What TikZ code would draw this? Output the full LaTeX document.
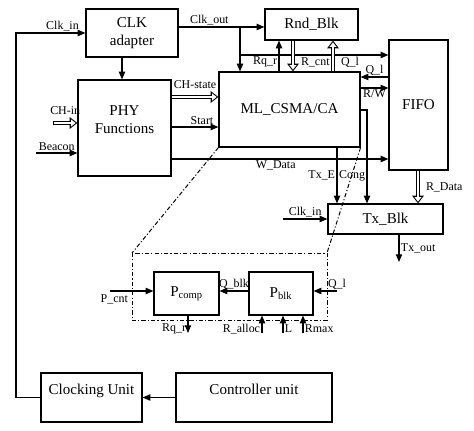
\documentclass[tikz,border=0pt]{standalone}
\usepackage{fontspec}
\setmainfont{Liberation Serif}
\usetikzlibrary{arrows.meta}

\begin{document}
\begin{tikzpicture}[x=0.025cm, y=-0.025cm,
      blk/.style={draw, line width=0.8pt, align=center, inner sep=1pt,
                  font=\fontsize{10.7}{12.5}\selectfont},
      lbl/.style={font=\fontsize{8.5}{10}\selectfont, inner sep=1pt},
      sig/.style={line width=0.8pt, -{Triangle[length=5.5pt,width=4.5pt]}},
      bus/.style={line width=3.4pt, -{Triangle[length=5.5pt,width=8pt]},
                  postaction={draw=white, line width=1.8pt, shorten >=1.3pt,
                              shorten <=0.6pt, -{Triangle[length=3.2pt,width=4.8pt]}}},
      zoom/.style={line width=0.7pt, dash pattern=on 3pt off 1.5pt on 0.8pt off 1.5pt}]
    \useasboundingbox (0,0) rectangle (474,431);

    % blocks
    \node[blk, minimum width=2.3cm, minimum height=1.2cm]     (clk)   at (132,33)      {CLK\\adapter};
    \node[blk, minimum width=2.325cm, minimum height=2.4cm, text depth=12pt] (phy) at (124.5,128) {PHY\\Functions};
    \node[blk, minimum width=3.525cm, minimum height=1.875cm] (mac)   at (289.5,109.5) {ML\_CSMA/CA};
    \node[blk, minimum width=2.325cm, minimum height=0.775cm] (rnd)   at (311.5,24.5)  {Rnd\_Blk};
    \node[blk, minimum width=1.475cm, minimum height=3.25cm]  (fifo)  at (418.5,105)   {FIFO};
    \node[blk, minimum width=2.875cm, minimum height=0.75cm]  (tx)    at (385.5,219)   {Tx\_Blk};
    \node[blk, minimum width=1.625cm, minimum height=1.075cm] (pcomp) at (186.5,293.5) {P\textsubscript{comp}};
    \node[blk, minimum width=1.6cm, minimum height=1.075cm]   (pblk)  at (281,293.5)   {P\textsubscript{blk}};
    \node[blk, minimum width=2.525cm, minimum height=1.225cm, text depth=12pt] (clku) at (91.5,397.5) {Clocking Unit};
    \node[blk, minimum width=3.9cm, minimum height=1.225cm, text depth=12pt]   (ctrl) at (254,397.5)  {Controller unit};

    % free ends
    \coordinate (cj)     at (240,27);
    \coordinate (chin)   at (53,123);
    \coordinate (bcn)    at (36,153);
    \coordinate (txclk)  at (283,219);
    \coordinate (txout)  at (399,262);
    \coordinate (pcnt)   at (110,291);
    \coordinate (qlin)   at (337,291);
    \coordinate (rqr)    at (188,333);
    \coordinate (ralloc) at (262,333);
    \coordinate (lin)    at (283,333);
    \coordinate (rmax)   at (303,333);
    \coordinate (zl)     at (132,253);
    \coordinate (zr)     at (327,253);

    % clocks
    \draw[sig] (ctrl.west) -- (clku.east);
    \draw[sig] (clku.west) -| (16,33) -- node[lbl, above, pos=0.67] {Clk\_in} (clk.west);
    \draw[sig] (clk.south -| 122,0) -- (phy.north -| 122,0);
    \draw[line width=0.8pt] (clk.east |- cj) -- node[lbl, above] {Clk\_out} (cj);
    \draw[sig] (cj) -- (mac.north -| cj);
    \draw[sig] (cj) -- (rnd.west |- cj);
    \draw[sig] (cj |- 0,55) -- (fifo.west |- 0,55);

    % PHY
    \draw[bus] (chin) -- node[lbl, above=3pt] {CH-in} (phy.west |- chin);
    \draw[sig] (bcn) -- node[lbl, above] {Beacon} (phy.west |- bcn);
    \draw[bus] (phy.east |- 0,97) -- node[lbl, above=3pt] {CH-state} (mac.west |- 0,97);
    \draw[sig] (phy.east |- 0,127) -- node[lbl, above, pos=0.65] {Start} (mac.west |- 0,127);
    \draw[sig] (phy.east |- 0,159) -- node[lbl, below, pos=0.48] {W\_Data} (fifo.west |- 0,159);

    % MAC <-> Rnd_Blk, FIFO
    \draw[sig] (mac.north -| 279,0) -- node[lbl, left, pos=0.3] {Rq\_r} (rnd.south -| 279,0);
    \draw[bus] (rnd.south -| 293,0) -- node[lbl, right=3pt, pos=0.7] {R\_cnt} (mac.north -| 293,0);
    \draw[bus] (mac.north -| 333,0) -- node[lbl, right=3pt, pos=0.3] {Q\_l} (rnd.south -| 333,0);
    \draw[sig] (fifo.west |- 0,77) -- node[lbl, above] {Q\_l} (mac.east |- 0,77);
    \draw[sig] (mac.east |- 0,88) -- node[lbl, below] {R/W} (fifo.west |- 0,88);

    % Tx_Blk
    \draw[sig] (mac.south -| 337,0) -- node[lbl, left] {Tx\_E} (tx.north -| 337,0);
    \draw[sig] (mac.east |- 0,110) -| node[lbl, left, pos=0.85] {Cong} (tx.north -| 367,0);
    \draw[bus] (fifo.south -| 418,0) -- node[lbl, right=3pt] {R\_Data} (tx.north -| 418,0);
    \draw[sig] (txclk) -- node[lbl, above] {Clk\_in} (tx.west);
    \draw[sig] (tx.south -| txout) -- node[lbl, right] {Tx\_out} (txout);

    % detail of Rnd_Blk
    \draw[zoom] (zl) rectangle (327,320);
    \draw[zoom] (mac.south west) -- (zl);
    \draw[zoom] (mac.south east) -- (zr);
    \draw[sig] (pcnt) -- node[lbl, below=1pt, pos=0.1] {P\_cnt} (pcomp.west |- pcnt);
    \draw[sig] (pblk.west |- pcnt) -- node[lbl, above] {Q\_blk} (pcomp.east |- pcnt);
    \draw[sig] (qlin) -- node[lbl, above, pos=0] {Q\_l} (pblk.east |- qlin);
    \draw[sig] (pcomp.south -| rqr) -- node[lbl, left, pos=0.75] {Rq\_r} (rqr);
    \draw[sig] (ralloc) -- node[lbl, left, pos=0.25] {R\_alloc} (pblk.south -| ralloc);
    \draw[sig] (lin) -- node[lbl, right, pos=0.25] {L} (pblk.south -| lin);
    \draw[sig] (rmax) -- node[lbl, right, pos=0.25] {Rmax} (pblk.south -| rmax);
  \end{tikzpicture}
\end{document}
